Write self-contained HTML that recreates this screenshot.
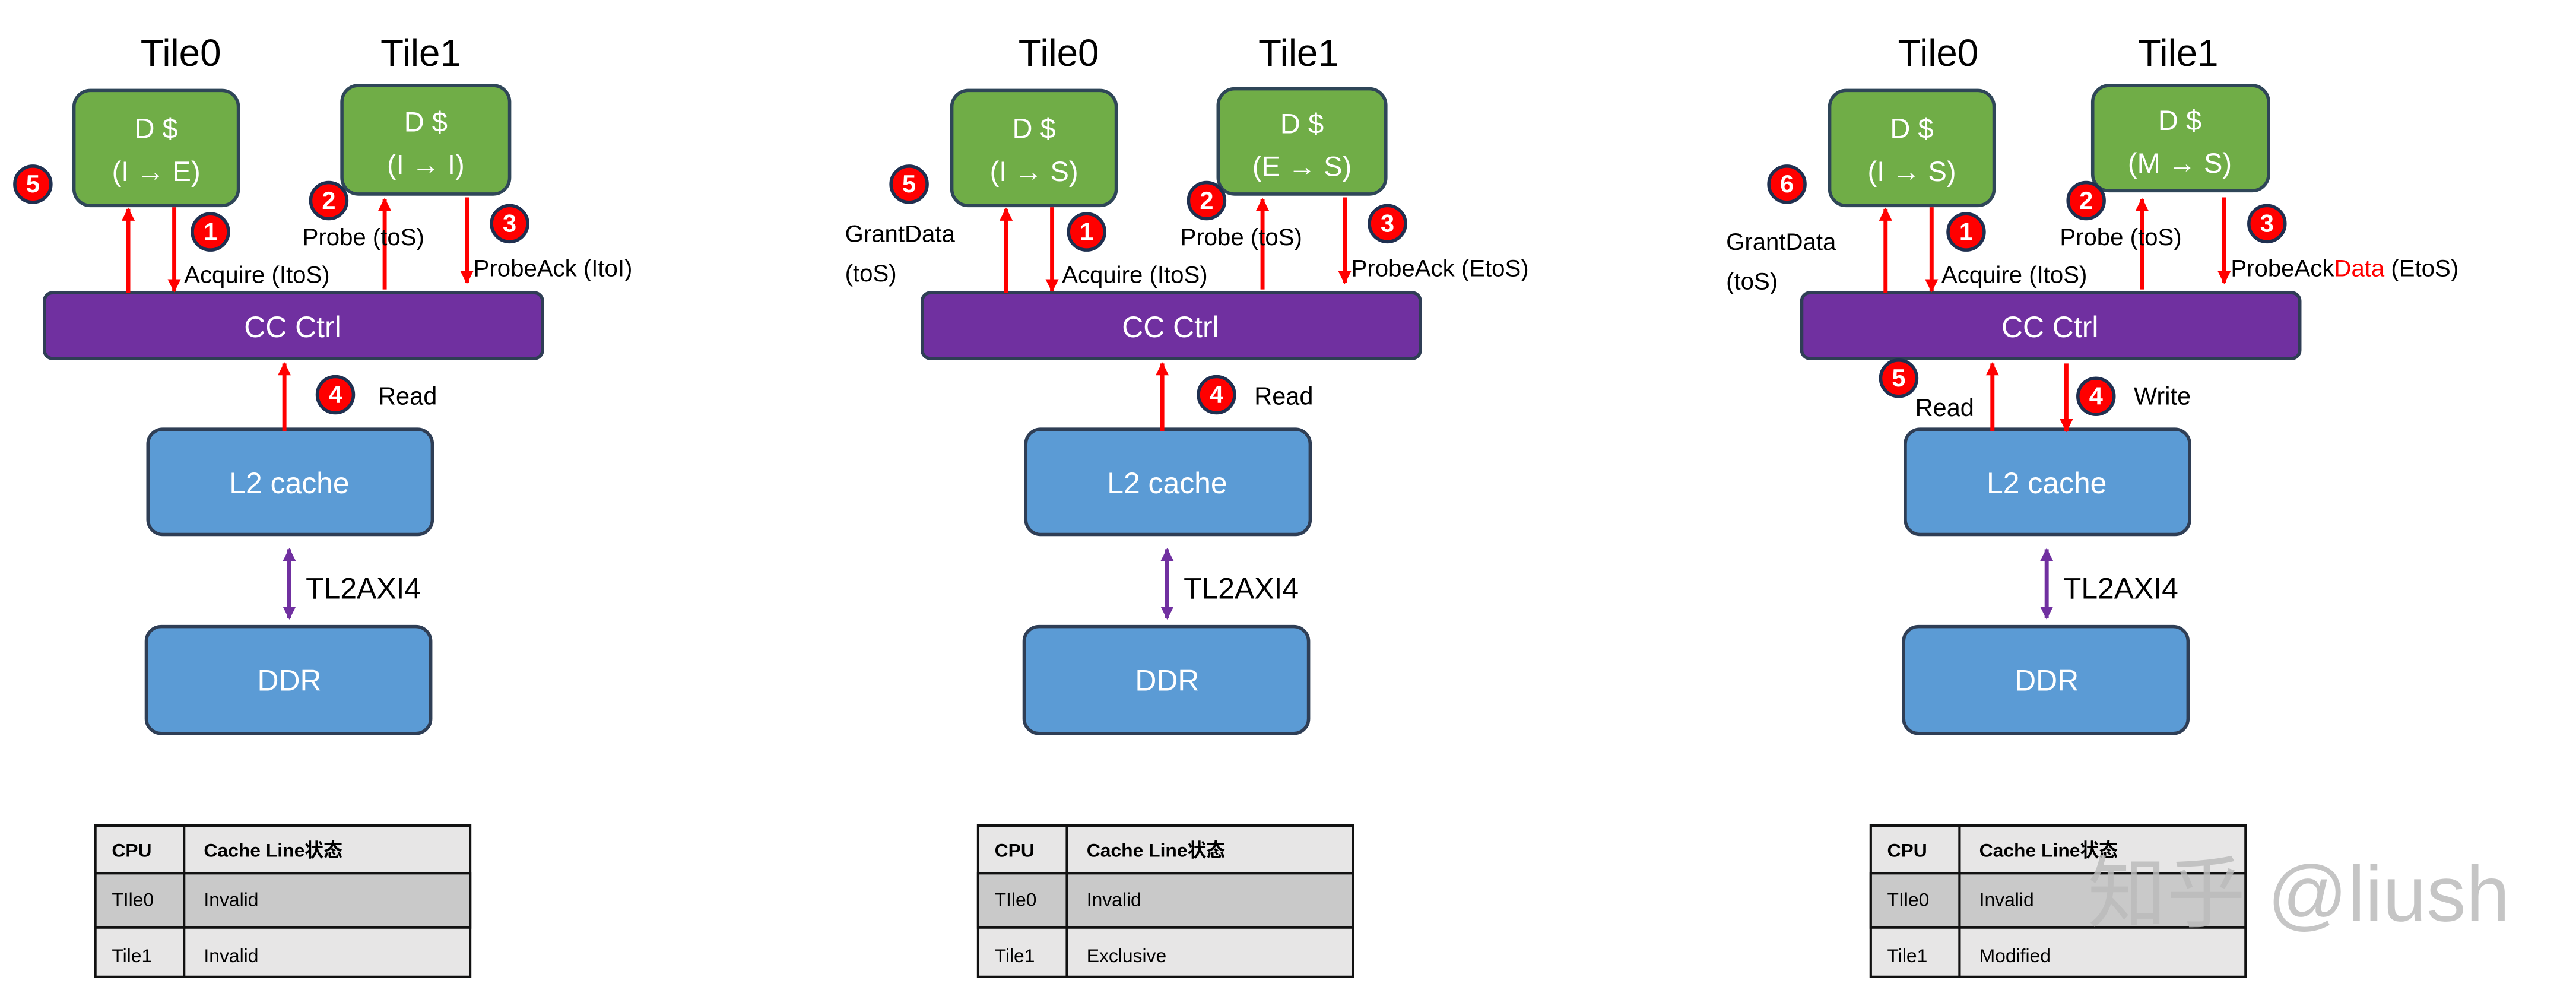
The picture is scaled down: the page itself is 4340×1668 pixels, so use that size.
<!DOCTYPE html>
<html><head><meta charset="utf-8"><style>
html,body{margin:0;padding:0;background:#fff;}
svg{display:block;}
text{font-family:"Liberation Sans","Noto Sans CJK SC",sans-serif;}
</style></head><body>
<svg width="4340" height="1668" viewBox="0 0 1567 602" preserveAspectRatio="none" xmlns="http://www.w3.org/2000/svg">
<defs>
<marker id="ar" viewBox="0 0 10 10" refX="9" refY="5" markerWidth="3.2" markerHeight="3.2" orient="auto"><path d="M0,0L10,5L0,10z" fill="#f00"/></marker>
<marker id="ap" viewBox="0 0 10 10" refX="9" refY="5" markerWidth="3.2" markerHeight="3.2" orient="auto-start-reverse"><path d="M0,0L10,5L0,10z" fill="#7030A0"/></marker>
<g id="base">
<text x="110" y="40" font-size="23" text-anchor="middle">Tile0</text>
<text x="256" y="40" font-size="23" text-anchor="middle">Tile1</text>
<rect x="27" y="178" width="303" height="40" rx="5" fill="#7030A0" stroke="#2F3E55" stroke-width="2"/>
<text x="178" y="205" font-size="18" fill="#fff" text-anchor="middle">CC Ctrl</text>
<rect x="90" y="261" width="173" height="64" rx="9" fill="#5B9BD5" stroke="#2F3E55" stroke-width="2"/>
<text x="176" y="300" font-size="18" fill="#fff" text-anchor="middle">L2 cache</text>
<rect x="89" y="381" width="173" height="65" rx="9" fill="#5B9BD5" stroke="#2F3E55" stroke-width="2"/>
<text x="176" y="420" font-size="18" fill="#fff" text-anchor="middle">DDR</text>
<line x1="176" y1="334" x2="176" y2="376" stroke="#7030A0" stroke-width="2.5" marker-start="url(#ap)" marker-end="url(#ap)"/>
<text x="186" y="364" font-size="18">TL2AXI4</text>
<line x1="78" y1="178" x2="78" y2="127" stroke="#f00" stroke-width="2.5" marker-end="url(#ar)"/>
<line x1="106" y1="126" x2="106" y2="177" stroke="#f00" stroke-width="2.5" marker-end="url(#ar)"/>
<line x1="234" y1="176" x2="234" y2="121" stroke="#f00" stroke-width="2.5" marker-end="url(#ar)"/>
<line x1="284" y1="120" x2="284" y2="172" stroke="#f00" stroke-width="2.5" marker-end="url(#ar)"/>
<text x="112" y="172" font-size="14.5">Acquire (ItoS)</text>
<text x="184" y="149" font-size="14.5">Probe (toS)</text>
</g>
<g id="tbl">
<rect x="58" y="502" width="228" height="92" fill="#E7E6E6" stroke="#111" stroke-width="1.5"/>
<rect x="58" y="531" width="228" height="33" fill="#C9C9C9" stroke="#111" stroke-width="1.5"/>
<line x1="112" y1="502" x2="112" y2="594" stroke="#111" stroke-width="1.5"/>
<text x="68" y="521" font-size="11.5" font-weight="bold">CPU</text>
<text x="124" y="521" font-size="11.5" font-weight="bold">Cache Line状态</text>
<text x="68" y="551" font-size="11.5">TIle0</text>
<text x="124" y="551" font-size="11.5">Invalid</text>
<text x="68" y="585" font-size="11.5">Tile1</text>
</g>
<g id="c"><circle r="11" fill="#f00" stroke="#1F3050" stroke-width="2"/></g>
</defs>

<!-- Panel 1 -->
<use href="#base"/>
<use href="#tbl"/>
<rect x="45" y="55" width="100" height="70" rx="10" fill="#70AD47" stroke="#2F4658" stroke-width="2"/>
<text x="95" y="84" font-size="17" fill="#fff" text-anchor="middle">D $</text>
<text x="95" y="110" font-size="17" fill="#fff" text-anchor="middle">(I → E)</text>
<rect x="208" y="52" width="102" height="66" rx="10" fill="#70AD47" stroke="#2F4658" stroke-width="2"/>
<text x="259" y="80" font-size="17" fill="#fff" text-anchor="middle">D $</text>
<text x="259" y="106" font-size="17" fill="#fff" text-anchor="middle">(I → I)</text>
<text x="288" y="168" font-size="14.5">ProbeAck (ItoI)</text>
<line x1="173" y1="262" x2="173" y2="221" stroke="#f00" stroke-width="2.5" marker-end="url(#ar)"/>
<text x="230" y="246" font-size="15">Read</text>
<text x="124" y="585" font-size="11.5">Invalid</text>
<g font-size="15" fill="#fff" text-anchor="middle" font-weight="bold">
<use href="#c" x="20" y="112"/><text x="20" y="117">5</text>
<use href="#c" x="128" y="141"/><text x="128" y="146">1</text>
<use href="#c" x="200" y="122"/><text x="200" y="127">2</text>
<use href="#c" x="310" y="136"/><text x="310" y="141">3</text>
<use href="#c" x="204" y="240"/><text x="204" y="245">4</text>
</g>

<!-- Panel 2 -->
<g transform="translate(534,0)">
<use href="#base"/>
<g transform="translate(3,0)"><use href="#tbl"/><text x="124" y="585" font-size="11.5">Exclusive</text></g>
<rect x="45" y="55" width="100" height="70" rx="10" fill="#70AD47" stroke="#2F4658" stroke-width="2"/>
<text x="95" y="84" font-size="17" fill="#fff" text-anchor="middle">D $</text>
<text x="95" y="110" font-size="17" fill="#fff" text-anchor="middle">(I → S)</text>
<rect x="207" y="54" width="102" height="64" rx="10" fill="#70AD47" stroke="#2F4658" stroke-width="2"/>
<text x="258" y="81" font-size="17" fill="#fff" text-anchor="middle">D $</text>
<text x="258" y="107" font-size="17" fill="#fff" text-anchor="middle">(E → S)</text>
<text x="288" y="168" font-size="14.5">ProbeAck (EtoS)</text>
<text x="-20" y="147" font-size="14.5">GrantData</text>
<text x="-20" y="171" font-size="14.5">(toS)</text>
<line x1="173" y1="262" x2="173" y2="221" stroke="#f00" stroke-width="2.5" marker-end="url(#ar)"/>
<text x="229" y="246" font-size="15">Read</text>
<g font-size="15" fill="#fff" text-anchor="middle" font-weight="bold">
<use href="#c" x="19" y="112"/><text x="19" y="117">5</text>
<use href="#c" x="127" y="141"/><text x="127" y="146">1</text>
<use href="#c" x="200" y="122"/><text x="200" y="127">2</text>
<use href="#c" x="310" y="136"/><text x="310" y="141">3</text>
<use href="#c" x="206" y="240"/><text x="206" y="245">4</text>
</g>
</g>

<!-- Panel 3 -->
<g transform="translate(1069,0)">
<use href="#base"/>
<g transform="translate(11,0)"><use href="#tbl"/><text x="124" y="585" font-size="11.5">Modified</text></g>
<rect x="44" y="55" width="100" height="70" rx="10" fill="#70AD47" stroke="#2F4658" stroke-width="2"/>
<text x="94" y="84" font-size="17" fill="#fff" text-anchor="middle">D $</text>
<text x="94" y="110" font-size="17" fill="#fff" text-anchor="middle">(I → S)</text>
<rect x="204" y="52" width="107" height="64" rx="10" fill="#70AD47" stroke="#2F4658" stroke-width="2"/>
<text x="257" y="79" font-size="17" fill="#fff" text-anchor="middle">D $</text>
<text x="257" y="105" font-size="17" fill="#fff" text-anchor="middle">(M → S)</text>
<text x="288" y="168" font-size="14.5">ProbeAck<tspan fill="#f00">Data</tspan> (EtoS)</text>
<text x="-19" y="152" font-size="14.5">GrantData</text>
<text x="-19" y="176" font-size="14.5">(toS)</text>
<line x1="143" y1="262" x2="143" y2="221" stroke="#f00" stroke-width="2.5" marker-end="url(#ar)"/>
<line x1="188" y1="221" x2="188" y2="262" stroke="#f00" stroke-width="2.5" marker-end="url(#ar)"/>
<text x="96" y="253" font-size="15">Read</text>
<text x="229" y="246" font-size="15">Write</text>
<g font-size="15" fill="#fff" text-anchor="middle" font-weight="bold">
<use href="#c" x="18" y="112"/><text x="18" y="117">6</text>
<use href="#c" x="127" y="141"/><text x="127" y="146">1</text>
<use href="#c" x="200" y="122"/><text x="200" y="127">2</text>
<use href="#c" x="310" y="136"/><text x="310" y="141">3</text>
<use href="#c" x="86" y="230"/><text x="86" y="235">5</text>
<use href="#c" x="206" y="241"/><text x="206" y="246">4</text>
</g>
</g>
<text x="1270" y="560" font-size="48" fill="#bbb" fill-opacity="0.85">知乎 @liush</text>
</svg>
</body></html>
